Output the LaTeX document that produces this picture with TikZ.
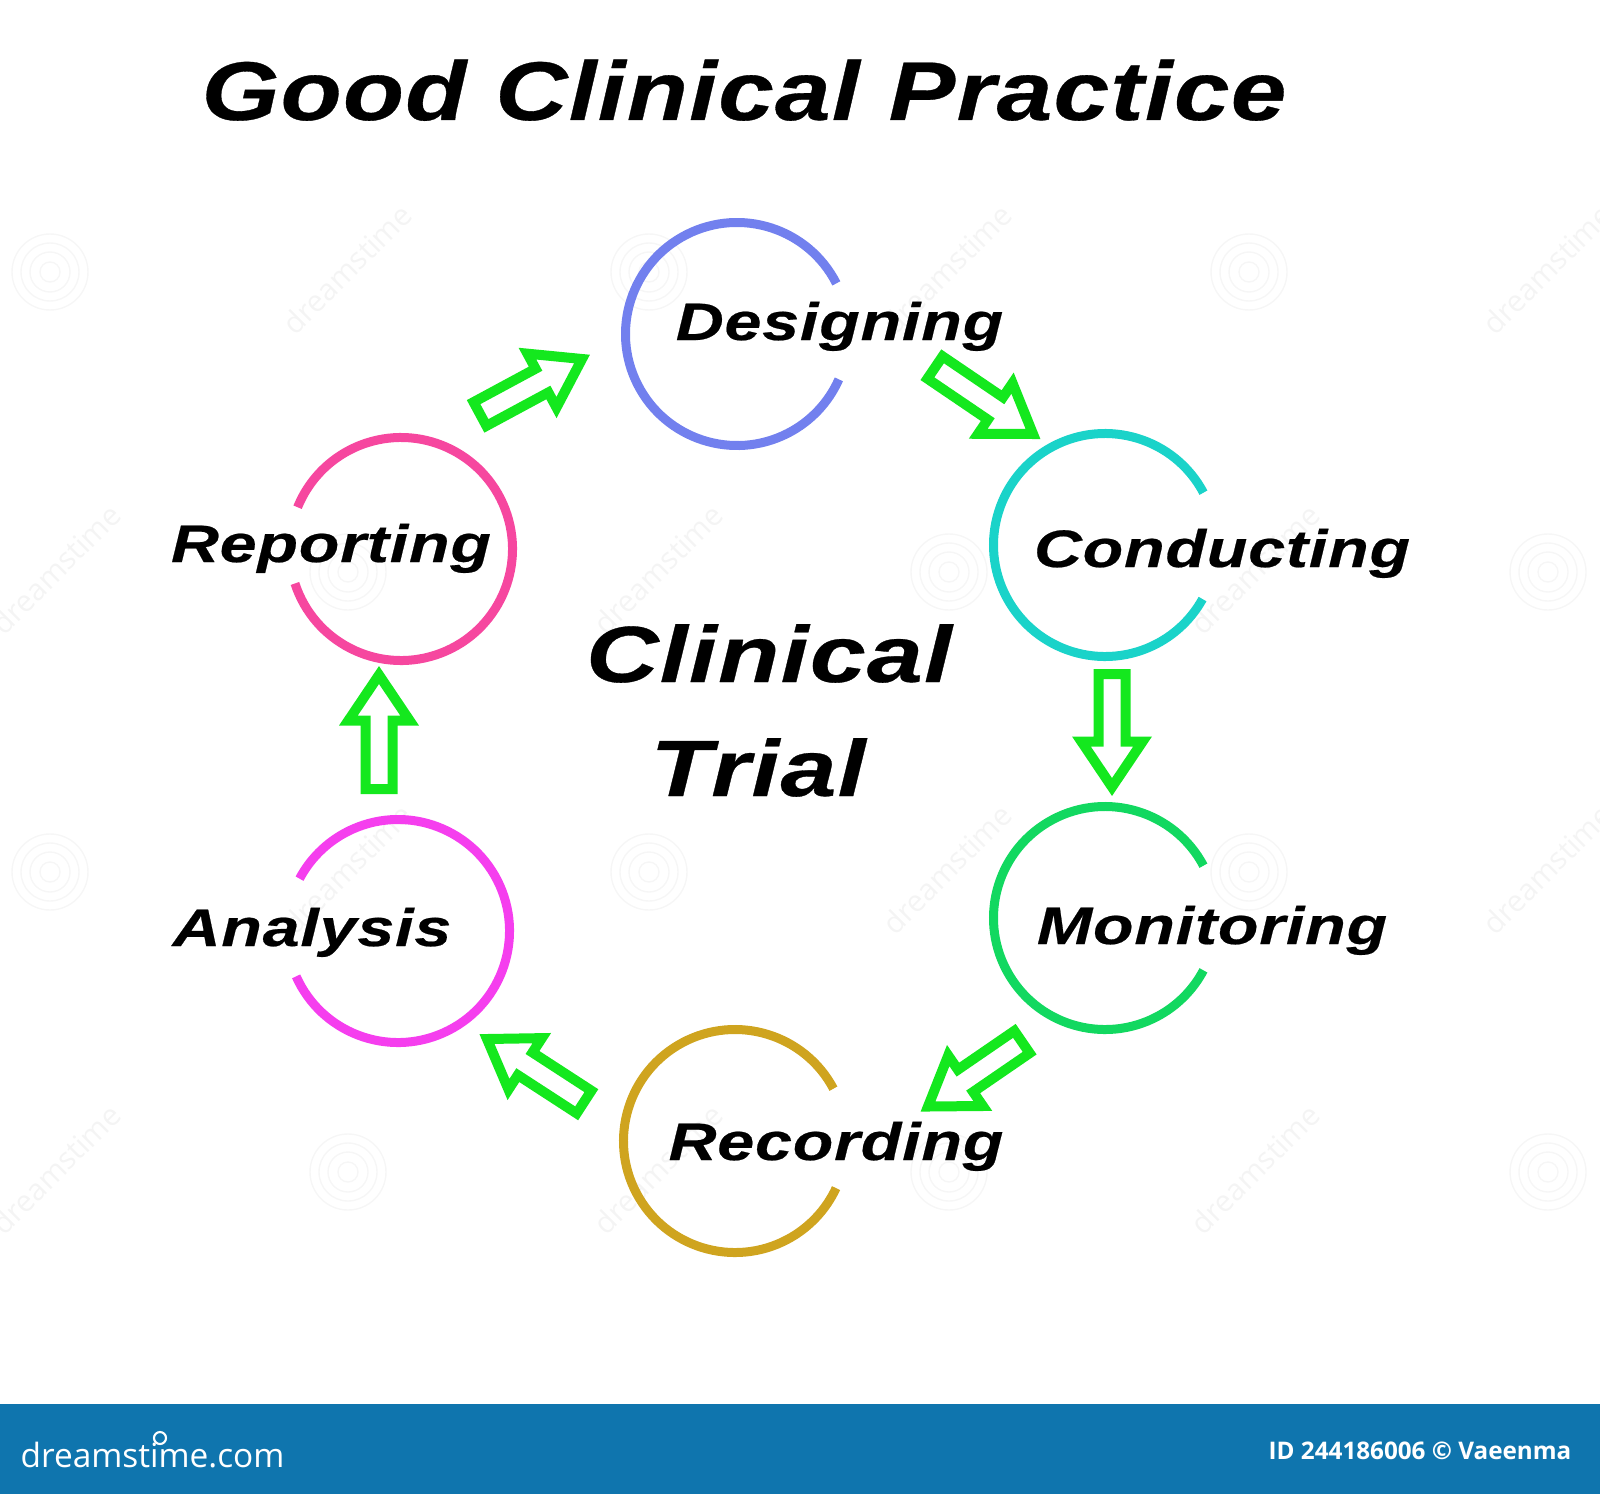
\documentclass[tikz,border=0pt]{standalone}
\usepackage{fontspec}
\usepackage{xcolor}
\usetikzlibrary{calc,positioning}
\setmainfont{Liberation Sans}
\newfontfamily\titlefont[FakeStretch=1.2,LetterSpace=1.5,FakeBold=0.4]{Liberation Sans}
\newfontfamily\diagfont[FakeStretch=1.26,LetterSpace=1.5,FakeBold=0.4]{Liberation Sans}
\newfontfamily\footfont{Open Sans}
\definecolor{arrowgreen}{HTML}{14E81E}
\definecolor{footblue}{HTML}{0F75AE}
\definecolor{designcol}{HTML}{7280EE}
\definecolor{conductcol}{HTML}{1AD3C9}
\definecolor{monitorcol}{HTML}{12D860}
\definecolor{recordcol}{HTML}{CFA41F}
\definecolor{analysiscol}{HTML}{F53EEE}
\definecolor{reportcol}{HTML}{F6479F}
\tikzset{
    steplabel/.style={anchor=base,inner sep=0pt,font=\diagfont\fontsize{15}{18}\selectfont\bfseries\itshape},
    centerlabel/.style={anchor=base,inner sep=0pt,font=\diagfont\fontsize{22.7}{28}\selectfont\bfseries\itshape},
    ringarc/.style={line width=0.09cm},
    markring/.style={draw=gray!7,line width=0.4pt},
    marktext/.style={text=gray!9,font=\footfont\fontsize{8.5}{10}\selectfont,rotate=45},
    blockarrow/.style={draw=arrowgreen,line width=0.1cm,line join=miter,miter limit=10,
        to path={
            ($(\tikztostart)!0.135cm!90:(\tikztotarget)$)
            -- ($($(\tikztotarget)!0.455cm!(\tikztostart)$)!0.135cm!90:(\tikztotarget)$)
            -- ($($(\tikztotarget)!0.455cm!(\tikztostart)$)!0.306cm!90:(\tikztotarget)$)
            -- (\tikztotarget)
            -- ($($(\tikztotarget)!0.455cm!(\tikztostart)$)!0.306cm!-90:(\tikztotarget)$)
            -- ($($(\tikztotarget)!0.455cm!(\tikztostart)$)!0.135cm!-90:(\tikztotarget)$)
            -- ($(\tikztostart)!0.135cm!-90:(\tikztotarget)$)
            -- cycle}}
}
\begin{document}
\begin{tikzpicture}
    \useasboundingbox (0,0) rectangle (16,14.94);

    % Watermark
    \foreach \x/\y in {0.50/12.22,6.49/12.22,12.49/12.22,3.48/9.22,9.49/9.22,15.48/9.22,0.50/6.22,6.49/6.22,12.49/6.22,3.48/3.22,9.49/3.22,15.48/3.22} {
        \foreach \r in {0.10,0.20,0.29,0.38}
            \draw[markring] (\x,\y) circle (\r);
    }
    \foreach \x/\y in {3.47/12.25,9.47/12.25,15.47/12.25,0.56/9.25,6.58/9.25,12.55/9.25,3.47/6.25,9.47/6.25,15.47/6.25,0.56/3.25,6.58/3.25,12.55/3.25}
        \node[marktext] at (\x,\y) {dreamstime};

    % Footer
    \fill[footblue] (0,0) rectangle (16,0.90);
    \node[anchor=base west,inner sep=0pt,text=white,font=\footfont\fontsize{9.5}{12}\selectfont] (logo) at (0.20,0.27) {dreamstime.com};
    \draw[white,line width=0.6pt] (1.60,0.56) circle (0.06);
    \node[anchor=base east,inner sep=0pt,text=white,font=\footfont\fontsize{6.9}{8}\selectfont\bfseries] (imageid) at (15.72,0.35) {ID 244186006 © Vaeenma};

    % Title
    \node[anchor=base,inner sep=0pt,font=\titlefont\fontsize{23.7}{28}\selectfont\bfseries\itshape] (title) at (7.44,13.74) {Good Clinical Practice};

    % Rings
    \foreach \x/\y/\col/\from/\to in {7.37/11.60/designcol/27/336,11.05/9.49/conductcol/28/331,11.05/5.76/monitorcol/28/332,7.35/3.53/recordcol/28/335,3.98/5.63/analysiscol/204/512,4.01/9.45/reportcol/198/518}
        \draw[ringarc,\col] (\x,\y) ++(\from:1.115) arc[start angle=\from,end angle=\to,radius=1.115];

    % Labels
    \node[steplabel] (designing) at (8.395,11.54) {Designing};
    \node[steplabel] (conducting) at (12.22,9.27) {Conducting};
    \node[steplabel] (monitoring) at (12.12,5.50) {Monitoring};
    \node[steplabel] (recording) at (8.36,3.34) {Recording};
    \node[steplabel] (analysis) at (3.12,5.48) {Analysis};
    \node[steplabel] (reporting) at (3.31,9.32) {Reporting};
    \node[centerlabel] (clinical) at (7.69,8.12) {Clinical};
    \node[centerlabel] (trial) at (7.58,6.98) {Trial};

    % Arrows
    \coordinate (designTail) at (9.35,11.265);
    \coordinate (conductTip) at (10.33,10.60);
    \coordinate (conductTail) at (11.12,8.20);
    \coordinate (monitorTip) at (11.12,7.07);
    \coordinate (monitorTail) at (10.22,4.52);
    \coordinate (recordTip) at (9.28,3.875);
    \coordinate (recordTail) at (5.84,3.92);
    \coordinate (analysisTip) at (4.87,4.55);
    \coordinate (analysisTail) at (3.79,7.05);
    \coordinate (reportTip) at (3.79,8.19);
    \coordinate (reportTail) at (4.80,10.80);
    \coordinate (designTip) at (5.82,11.35);
    \draw[blockarrow] (designTail) to (conductTip);
    \draw[blockarrow] (conductTail) to (monitorTip);
    \draw[blockarrow] (monitorTail) to (recordTip);
    \draw[blockarrow] (recordTail) to (analysisTip);
    \draw[blockarrow] (analysisTail) to (reportTip);
    \draw[blockarrow] (reportTail) to (designTip);
\end{tikzpicture}
\end{document}
